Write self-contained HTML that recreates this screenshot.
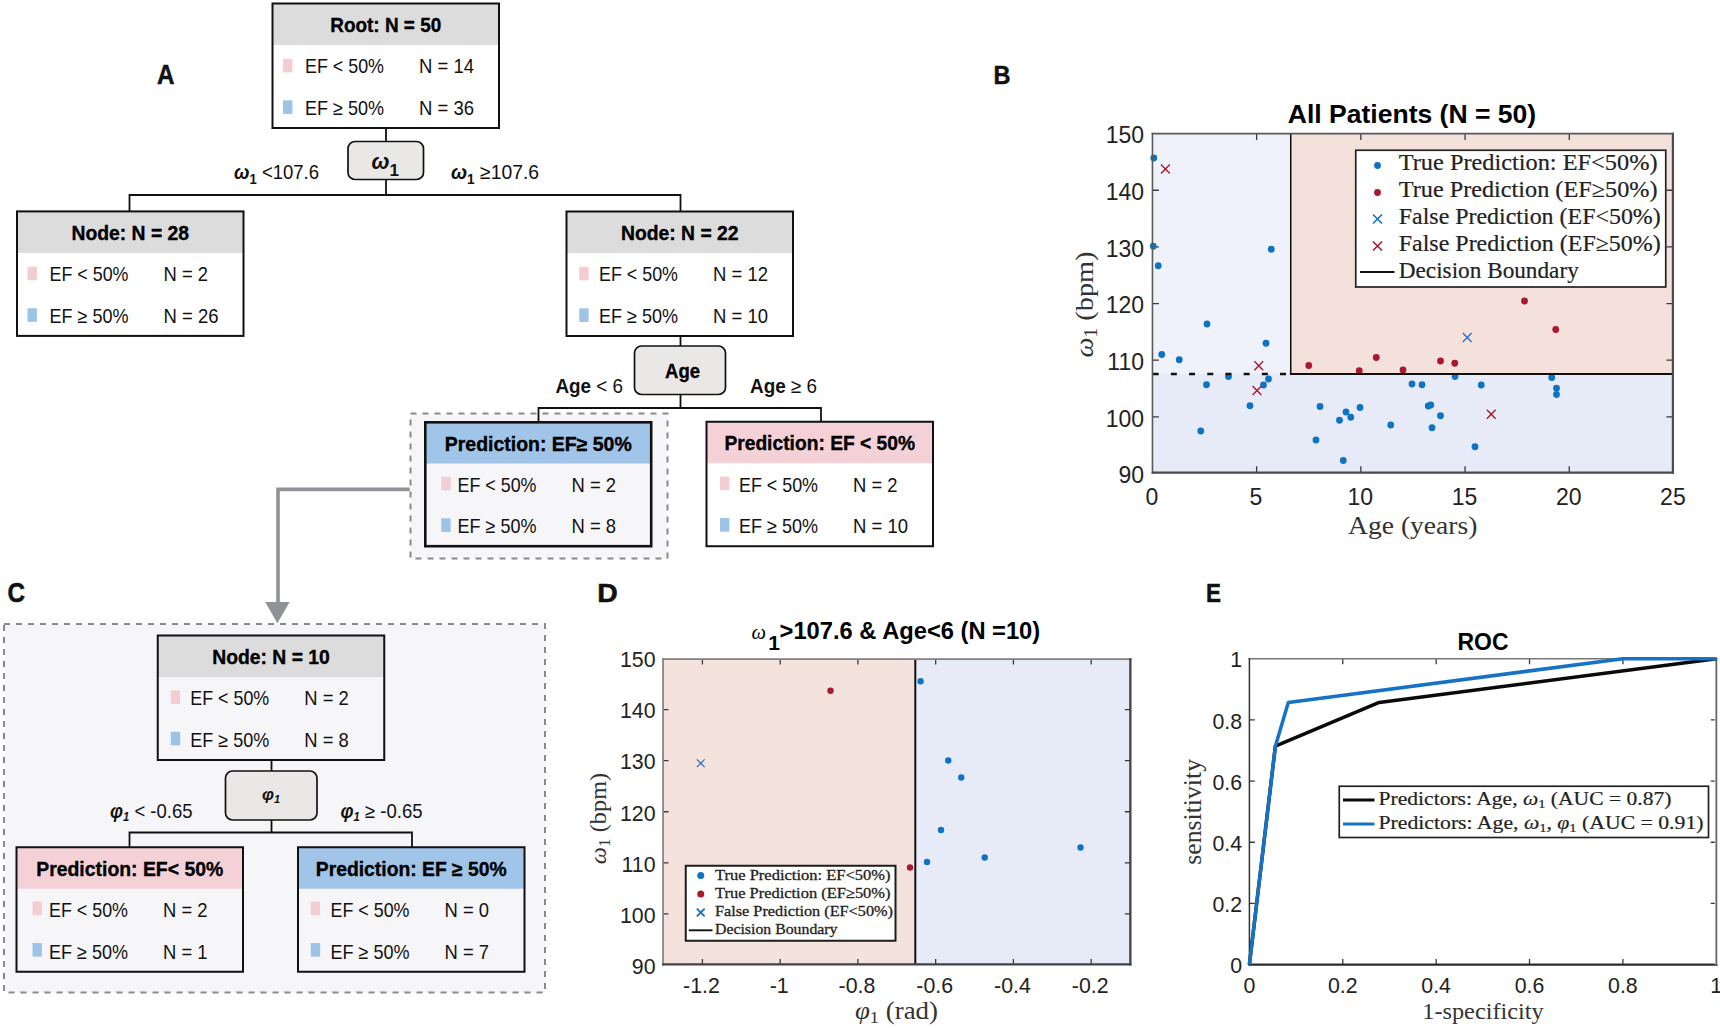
<!DOCTYPE html>
<html lang="en"><head><meta charset="utf-8"><title>Decision tree figure</title>
<style>html,body{margin:0;padding:0;background:#fff;overflow:hidden}svg{display:block}</style></head><body>
<svg width="1720" height="1028" viewBox="0 0 1720 1028">
<rect width="1720" height="1028" fill="#fff"/>
<text x="157" y="84" font-family='"Liberation Sans", sans-serif' font-size="27" font-weight="bold" font-style="normal" text-anchor="start" fill="#111" textLength="17.5" lengthAdjust="spacingAndGlyphs" stroke="#111" stroke-width="0.5">A</text>
<text x="993.5" y="83.75" font-family='"Liberation Sans", sans-serif' font-size="26.5" font-weight="bold" font-style="normal" text-anchor="start" fill="#111" textLength="17" lengthAdjust="spacingAndGlyphs" stroke="#111" stroke-width="0.5">B</text>
<text x="7.5" y="601.75" font-family='"Liberation Sans", sans-serif' font-size="27" font-weight="bold" font-style="normal" text-anchor="start" fill="#111" textLength="17.5" lengthAdjust="spacingAndGlyphs" stroke="#111" stroke-width="0.5">C</text>
<text x="597.3" y="601.75" font-family='"Liberation Sans", sans-serif' font-size="26.5" font-weight="bold" font-style="normal" text-anchor="start" fill="#111" textLength="20.5" lengthAdjust="spacingAndGlyphs" stroke="#111" stroke-width="0.5">D</text>
<text x="1206" y="601.75" font-family='"Liberation Sans", sans-serif' font-size="26.5" font-weight="bold" font-style="normal" text-anchor="start" fill="#111" textLength="15" lengthAdjust="spacingAndGlyphs" stroke="#111" stroke-width="0.5">E</text>
<rect x="410.5" y="413.5" width="257" height="145" fill="#f6f6f8" stroke="#8a8a8a" stroke-width="2" stroke-dasharray="6 6"/>
<path d="M386 128V142M386 179V195M129.5 212V195H680.5V212" stroke="#111" stroke-width="1.8" fill="none"/>
<path d="M680.5 336V346M680.5 394V408M538.5 422V408H821V422" stroke="#111" stroke-width="1.8" fill="none"/>
<rect x="272.5" y="3.5" width="226.5" height="124.5" fill="#fff"/>
<rect x="272.5" y="3.5" width="226.5" height="41.5" fill="#dddcdd"/>
<rect x="272.5" y="3.5" width="226.5" height="124.5" fill="none" stroke="#111" stroke-width="2.0"/>
<text x="385.75" y="32.0" font-family='"Liberation Sans", sans-serif' font-size="19.8" font-weight="bold" font-style="normal" text-anchor="middle" fill="#000" textLength="111" lengthAdjust="spacingAndGlyphs" stroke="#000" stroke-width="0.35">Root: N = 50</text>
<rect x="283.0" y="58.8" width="9.4" height="13.6" fill="#f4cdd2"/>
<text x="305.0" y="73.3" font-family='"Liberation Sans", sans-serif' font-size="19.8" font-weight="normal" font-style="normal" text-anchor="start" fill="#111" textLength="79" lengthAdjust="spacingAndGlyphs" >EF &lt; 50%</text>
<text x="419.0" y="73.3" font-family='"Liberation Sans", sans-serif' font-size="19.8" font-weight="normal" font-style="normal" text-anchor="start" fill="#111" textLength="55" lengthAdjust="spacingAndGlyphs" >N = 14</text>
<rect x="283.0" y="100.3" width="9.4" height="13.6" fill="#9dc3e7"/>
<text x="305.0" y="114.8" font-family='"Liberation Sans", sans-serif' font-size="19.8" font-weight="normal" font-style="normal" text-anchor="start" fill="#111" textLength="79" lengthAdjust="spacingAndGlyphs" >EF ≥ 50%</text>
<text x="419.0" y="114.8" font-family='"Liberation Sans", sans-serif' font-size="19.8" font-weight="normal" font-style="normal" text-anchor="start" fill="#111" textLength="55" lengthAdjust="spacingAndGlyphs" >N = 36</text>
<rect x="17.0" y="211.4" width="226.5" height="124.5" fill="#fff"/>
<rect x="17.0" y="211.4" width="226.5" height="41.5" fill="#dddcdd"/>
<rect x="17.0" y="211.4" width="226.5" height="124.5" fill="none" stroke="#111" stroke-width="2.0"/>
<text x="130.25" y="239.9" font-family='"Liberation Sans", sans-serif' font-size="19.8" font-weight="bold" font-style="normal" text-anchor="middle" fill="#000" textLength="117.5" lengthAdjust="spacingAndGlyphs" stroke="#000" stroke-width="0.35">Node: N = 28</text>
<rect x="27.5" y="266.7" width="9.4" height="13.6" fill="#f4cdd2"/>
<text x="49.5" y="281.2" font-family='"Liberation Sans", sans-serif' font-size="19.8" font-weight="normal" font-style="normal" text-anchor="start" fill="#111" textLength="79" lengthAdjust="spacingAndGlyphs" >EF &lt; 50%</text>
<text x="163.5" y="281.2" font-family='"Liberation Sans", sans-serif' font-size="19.8" font-weight="normal" font-style="normal" text-anchor="start" fill="#111" textLength="44.5" lengthAdjust="spacingAndGlyphs" >N = 2</text>
<rect x="27.5" y="308.2" width="9.4" height="13.6" fill="#9dc3e7"/>
<text x="49.5" y="322.7" font-family='"Liberation Sans", sans-serif' font-size="19.8" font-weight="normal" font-style="normal" text-anchor="start" fill="#111" textLength="79" lengthAdjust="spacingAndGlyphs" >EF ≥ 50%</text>
<text x="163.5" y="322.7" font-family='"Liberation Sans", sans-serif' font-size="19.8" font-weight="normal" font-style="normal" text-anchor="start" fill="#111" textLength="55" lengthAdjust="spacingAndGlyphs" >N = 26</text>
<rect x="566.5" y="211.5" width="226.5" height="124.5" fill="#fff"/>
<rect x="566.5" y="211.5" width="226.5" height="41.5" fill="#dddcdd"/>
<rect x="566.5" y="211.5" width="226.5" height="124.5" fill="none" stroke="#111" stroke-width="2.0"/>
<text x="679.75" y="240.0" font-family='"Liberation Sans", sans-serif' font-size="19.8" font-weight="bold" font-style="normal" text-anchor="middle" fill="#000" textLength="117.5" lengthAdjust="spacingAndGlyphs" stroke="#000" stroke-width="0.35">Node: N = 22</text>
<rect x="579.25" y="266.8" width="9.4" height="13.6" fill="#f4cdd2"/>
<text x="599.0" y="281.3" font-family='"Liberation Sans", sans-serif' font-size="19.8" font-weight="normal" font-style="normal" text-anchor="start" fill="#111" textLength="79" lengthAdjust="spacingAndGlyphs" >EF &lt; 50%</text>
<text x="713.0" y="281.3" font-family='"Liberation Sans", sans-serif' font-size="19.8" font-weight="normal" font-style="normal" text-anchor="start" fill="#111" textLength="55" lengthAdjust="spacingAndGlyphs" >N = 12</text>
<rect x="579.25" y="308.3" width="9.4" height="13.6" fill="#9dc3e7"/>
<text x="599.0" y="322.8" font-family='"Liberation Sans", sans-serif' font-size="19.8" font-weight="normal" font-style="normal" text-anchor="start" fill="#111" textLength="79" lengthAdjust="spacingAndGlyphs" >EF ≥ 50%</text>
<text x="713.0" y="322.8" font-family='"Liberation Sans", sans-serif' font-size="19.8" font-weight="normal" font-style="normal" text-anchor="start" fill="#111" textLength="55" lengthAdjust="spacingAndGlyphs" >N = 10</text>
<rect x="425.3" y="422.3" width="225.9" height="123.9" fill="#f6f6f8"/>
<rect x="425.3" y="422.3" width="225.9" height="41.2" fill="#a0c5e9"/>
<rect x="425.3" y="422.3" width="225.9" height="123.9" fill="none" stroke="#111" stroke-width="2.6"/>
<text x="538.25" y="450.5" font-family='"Liberation Sans", sans-serif' font-size="19.8" font-weight="bold" font-style="normal" text-anchor="middle" fill="#000" textLength="187" lengthAdjust="spacingAndGlyphs" stroke="#000" stroke-width="0.35">Prediction: EF≥ 50%</text>
<rect x="441.25" y="476.8" width="9.4" height="13.6" fill="#f4cdd2"/>
<text x="457.5" y="491.8" font-family='"Liberation Sans", sans-serif' font-size="19.8" font-weight="normal" font-style="normal" text-anchor="start" fill="#111" textLength="79" lengthAdjust="spacingAndGlyphs" >EF &lt; 50%</text>
<text x="571.5" y="491.8" font-family='"Liberation Sans", sans-serif' font-size="19.8" font-weight="normal" font-style="normal" text-anchor="start" fill="#111" textLength="44.5" lengthAdjust="spacingAndGlyphs" >N = 2</text>
<rect x="441.25" y="518.3" width="9.4" height="13.6" fill="#9dc3e7"/>
<text x="457.5" y="533.3" font-family='"Liberation Sans", sans-serif' font-size="19.8" font-weight="normal" font-style="normal" text-anchor="start" fill="#111" textLength="79" lengthAdjust="spacingAndGlyphs" >EF ≥ 50%</text>
<text x="571.5" y="533.3" font-family='"Liberation Sans", sans-serif' font-size="19.8" font-weight="normal" font-style="normal" text-anchor="start" fill="#111" textLength="44.5" lengthAdjust="spacingAndGlyphs" >N = 8</text>
<rect x="706.5" y="421.75" width="226.5" height="124.5" fill="#fff"/>
<rect x="706.5" y="421.75" width="226.5" height="41.5" fill="#f4d1d6"/>
<rect x="706.5" y="421.75" width="226.5" height="124.5" fill="none" stroke="#111" stroke-width="2.0"/>
<text x="819.75" y="450.25" font-family='"Liberation Sans", sans-serif' font-size="19.8" font-weight="bold" font-style="normal" text-anchor="middle" fill="#000" textLength="190.75" lengthAdjust="spacingAndGlyphs" stroke="#000" stroke-width="0.35">Prediction: EF &lt; 50%</text>
<rect x="720.0" y="476.55" width="9.4" height="13.6" fill="#f4cdd2"/>
<text x="739.0" y="491.55" font-family='"Liberation Sans", sans-serif' font-size="19.8" font-weight="normal" font-style="normal" text-anchor="start" fill="#111" textLength="79" lengthAdjust="spacingAndGlyphs" >EF &lt; 50%</text>
<text x="853.0" y="491.55" font-family='"Liberation Sans", sans-serif' font-size="19.8" font-weight="normal" font-style="normal" text-anchor="start" fill="#111" textLength="44.5" lengthAdjust="spacingAndGlyphs" >N = 2</text>
<rect x="720.0" y="518.05" width="9.4" height="13.6" fill="#9dc3e7"/>
<text x="739.0" y="533.05" font-family='"Liberation Sans", sans-serif' font-size="19.8" font-weight="normal" font-style="normal" text-anchor="start" fill="#111" textLength="79" lengthAdjust="spacingAndGlyphs" >EF ≥ 50%</text>
<text x="853.0" y="533.05" font-family='"Liberation Sans", sans-serif' font-size="19.8" font-weight="normal" font-style="normal" text-anchor="start" fill="#111" textLength="55" lengthAdjust="spacingAndGlyphs" >N = 10</text>
<rect x="348" y="141.5" width="75.5" height="38" rx="7" ry="7" fill="#e9e8e7" stroke="#111" stroke-width="1.7"/>
<text x="371.5" y="169" font-family='"Liberation Sans", sans-serif' font-size="21.5" font-weight="bold" font-style="italic" fill="#111">ω<tspan font-style="normal" font-size="17" dy="6.5">1</tspan></text>
<text x="234" y="179" font-family='"Liberation Sans", sans-serif' font-size="19.8" fill="#111" textLength="85" lengthAdjust="spacingAndGlyphs"><tspan font-weight="bold" font-style="italic">ω</tspan><tspan font-weight="bold" font-size="14" dy="4.5">1</tspan><tspan dy="-4.5"> &lt;107.6</tspan></text>
<text x="451" y="179" font-family='"Liberation Sans", sans-serif' font-size="19.8" fill="#111" textLength="88" lengthAdjust="spacingAndGlyphs"><tspan font-weight="bold" font-style="italic">ω</tspan><tspan font-weight="bold" font-size="14" dy="4.5">1</tspan><tspan dy="-4.5"> ≥107.6</tspan></text>
<rect x="634.5" y="346" width="91" height="48.5" rx="7" ry="7" fill="#e9e8e7" stroke="#111" stroke-width="1.7"/>
<text x="682.5" y="377.5" font-family='"Liberation Sans", sans-serif' font-size="19.8" font-weight="bold" font-style="normal" text-anchor="middle" fill="#000" textLength="35" lengthAdjust="spacingAndGlyphs" stroke="#000" stroke-width="0.3">Age</text>
<text x="555.5" y="392.5" font-family='"Liberation Sans", sans-serif' font-size="19.8" fill="#111" textLength="67.5" lengthAdjust="spacingAndGlyphs"><tspan font-weight="bold">Age</tspan> &lt; 6</text>
<text x="750" y="392.5" font-family='"Liberation Sans", sans-serif' font-size="19.8" fill="#111" textLength="67" lengthAdjust="spacingAndGlyphs"><tspan font-weight="bold">Age</tspan> ≥ 6</text>
<path d="M409.7 489.4H278V604" fill="none" stroke="#909297" stroke-width="3.6"/>
<path d="M265.2 602H289.6L277.4 623.2Z" fill="#909297"/>
<rect x="4" y="624" width="541" height="368.5" fill="#f6f6f8" stroke="#8a8a8a" stroke-width="2" stroke-dasharray="6 6"/>
<path d="M271.5 760V771M271.5 820V832.5M129.5 847V832.5H412V847" stroke="#111" stroke-width="1.8" fill="none"/>
<rect x="157.75" y="635.5" width="226.5" height="124.5" fill="#f6f6f8"/>
<rect x="157.75" y="635.5" width="226.5" height="41.5" fill="#dddcdd"/>
<rect x="157.75" y="635.5" width="226.5" height="124.5" fill="none" stroke="#111" stroke-width="2.0"/>
<text x="271.0" y="664.0" font-family='"Liberation Sans", sans-serif' font-size="19.8" font-weight="bold" font-style="normal" text-anchor="middle" fill="#000" textLength="117.5" lengthAdjust="spacingAndGlyphs" stroke="#000" stroke-width="0.35">Node: N = 10</text>
<rect x="170.75" y="690.3" width="9.4" height="13.6" fill="#f4cdd2"/>
<text x="190.25" y="705.3" font-family='"Liberation Sans", sans-serif' font-size="19.8" font-weight="normal" font-style="normal" text-anchor="start" fill="#111" textLength="79" lengthAdjust="spacingAndGlyphs" >EF &lt; 50%</text>
<text x="304.25" y="705.3" font-family='"Liberation Sans", sans-serif' font-size="19.8" font-weight="normal" font-style="normal" text-anchor="start" fill="#111" textLength="44.5" lengthAdjust="spacingAndGlyphs" >N = 2</text>
<rect x="170.75" y="731.8" width="9.4" height="13.6" fill="#9dc3e7"/>
<text x="190.25" y="746.8" font-family='"Liberation Sans", sans-serif' font-size="19.8" font-weight="normal" font-style="normal" text-anchor="start" fill="#111" textLength="79" lengthAdjust="spacingAndGlyphs" >EF ≥ 50%</text>
<text x="304.25" y="746.8" font-family='"Liberation Sans", sans-serif' font-size="19.8" font-weight="normal" font-style="normal" text-anchor="start" fill="#111" textLength="44.5" lengthAdjust="spacingAndGlyphs" >N = 8</text>
<rect x="16.5" y="847.25" width="226.5" height="124.5" fill="#f6f6f8"/>
<rect x="16.5" y="847.25" width="226.5" height="41.5" fill="#f4d1d6"/>
<rect x="16.5" y="847.25" width="226.5" height="124.5" fill="none" stroke="#111" stroke-width="2.0"/>
<text x="129.75" y="875.75" font-family='"Liberation Sans", sans-serif' font-size="19.8" font-weight="bold" font-style="normal" text-anchor="middle" fill="#000" textLength="187" lengthAdjust="spacingAndGlyphs" stroke="#000" stroke-width="0.35">Prediction: EF&lt; 50%</text>
<rect x="32.5" y="901.55" width="9.4" height="13.6" fill="#f4cdd2"/>
<text x="49.0" y="917.05" font-family='"Liberation Sans", sans-serif' font-size="19.8" font-weight="normal" font-style="normal" text-anchor="start" fill="#111" textLength="79" lengthAdjust="spacingAndGlyphs" >EF &lt; 50%</text>
<text x="163.0" y="917.05" font-family='"Liberation Sans", sans-serif' font-size="19.8" font-weight="normal" font-style="normal" text-anchor="start" fill="#111" textLength="44.5" lengthAdjust="spacingAndGlyphs" >N = 2</text>
<rect x="32.5" y="943.05" width="9.4" height="13.6" fill="#9dc3e7"/>
<text x="49.0" y="958.55" font-family='"Liberation Sans", sans-serif' font-size="19.8" font-weight="normal" font-style="normal" text-anchor="start" fill="#111" textLength="79" lengthAdjust="spacingAndGlyphs" >EF ≥ 50%</text>
<text x="163.0" y="958.55" font-family='"Liberation Sans", sans-serif' font-size="19.8" font-weight="normal" font-style="normal" text-anchor="start" fill="#111" textLength="44.5" lengthAdjust="spacingAndGlyphs" >N = 1</text>
<rect x="298.0" y="847.25" width="226.5" height="124.5" fill="#f6f6f8"/>
<rect x="298.0" y="847.25" width="226.5" height="41.5" fill="#a0c5e9"/>
<rect x="298.0" y="847.25" width="226.5" height="124.5" fill="none" stroke="#111" stroke-width="2.0"/>
<text x="411.25" y="875.75" font-family='"Liberation Sans", sans-serif' font-size="19.8" font-weight="bold" font-style="normal" text-anchor="middle" fill="#000" textLength="191" lengthAdjust="spacingAndGlyphs" stroke="#000" stroke-width="0.35">Prediction: EF ≥ 50%</text>
<rect x="310.75" y="901.55" width="9.4" height="13.6" fill="#f4cdd2"/>
<text x="330.5" y="917.05" font-family='"Liberation Sans", sans-serif' font-size="19.8" font-weight="normal" font-style="normal" text-anchor="start" fill="#111" textLength="79" lengthAdjust="spacingAndGlyphs" >EF &lt; 50%</text>
<text x="444.5" y="917.05" font-family='"Liberation Sans", sans-serif' font-size="19.8" font-weight="normal" font-style="normal" text-anchor="start" fill="#111" textLength="44.5" lengthAdjust="spacingAndGlyphs" >N = 0</text>
<rect x="310.75" y="943.05" width="9.4" height="13.6" fill="#9dc3e7"/>
<text x="330.5" y="958.55" font-family='"Liberation Sans", sans-serif' font-size="19.8" font-weight="normal" font-style="normal" text-anchor="start" fill="#111" textLength="79" lengthAdjust="spacingAndGlyphs" >EF ≥ 50%</text>
<text x="444.5" y="958.55" font-family='"Liberation Sans", sans-serif' font-size="19.8" font-weight="normal" font-style="normal" text-anchor="start" fill="#111" textLength="44.5" lengthAdjust="spacingAndGlyphs" >N = 7</text>
<rect x="225.5" y="771" width="91.5" height="49" rx="7" ry="7" fill="#e9e8e7" stroke="#111" stroke-width="1.7"/>
<text x="262" y="800" font-family='"Liberation Sans", sans-serif' font-size="17" font-weight="bold" font-style="italic" fill="#111">φ<tspan font-size="11" dy="3">1</tspan></text>
<text x="110" y="818" font-family='"Liberation Sans", sans-serif' font-size="19.8" fill="#111" textLength="82.5" lengthAdjust="spacingAndGlyphs"><tspan font-weight="bold" font-style="italic">φ</tspan><tspan font-weight="bold" font-style="italic" font-size="12" dy="3">1</tspan><tspan dy="-3"> &lt; -0.65</tspan></text>
<text x="340.5" y="818" font-family='"Liberation Sans", sans-serif' font-size="19.8" fill="#111" textLength="82" lengthAdjust="spacingAndGlyphs"><tspan font-weight="bold" font-style="italic">φ</tspan><tspan font-weight="bold" font-style="italic" font-size="12" dy="3">1</tspan><tspan dy="-3"> ≥ -0.65</tspan></text>
<rect x="1152.45" y="133.6" width="136.3499999999999" height="240.4" fill="#eff2fb"/>
<rect x="1290.7" y="133.6" width="382.20000000000005" height="240.4" fill="#f4e1dc"/>
<rect x="1152.45" y="374.0" width="520.45" height="98.69999999999999" fill="#e7ebf7"/>
<path d="M1256.62 472.7v-6.5M1256.62 133.6v6.5M1360.84 472.7v-6.5M1360.84 133.6v6.5M1465.06 472.7v-6.5M1465.06 133.6v6.5M1569.28 472.7v-6.5M1569.28 133.6v6.5M1152.45 416.85h6.5M1672.9 416.85h-6.5M1152.45 360.20h6.5M1672.9 360.20h-6.5M1152.45 303.55h6.5M1672.9 303.55h-6.5M1152.45 246.90h6.5M1672.9 246.90h-6.5M1152.45 190.25h6.5M1672.9 190.25h-6.5" stroke="#3a3a3e" stroke-width="1.3" fill="none"/>
<circle cx="1161.75" cy="354.5" r="3.4" fill="#0f73c4"/>
<circle cx="1179.25" cy="359.75" r="3.4" fill="#0f73c4"/>
<circle cx="1207" cy="324" r="3.4" fill="#0f73c4"/>
<circle cx="1206.5" cy="384.75" r="3.4" fill="#0f73c4"/>
<circle cx="1200.75" cy="431" r="3.4" fill="#0f73c4"/>
<circle cx="1228.5" cy="376.5" r="3.4" fill="#0f73c4"/>
<circle cx="1266" cy="343.25" r="3.4" fill="#0f73c4"/>
<circle cx="1268.5" cy="379" r="3.4" fill="#0f73c4"/>
<circle cx="1263.5" cy="385" r="3.4" fill="#0f73c4"/>
<circle cx="1250" cy="405.75" r="3.4" fill="#0f73c4"/>
<circle cx="1320" cy="406.5" r="3.4" fill="#0f73c4"/>
<circle cx="1316" cy="440" r="3.4" fill="#0f73c4"/>
<circle cx="1339.5" cy="420.25" r="3.4" fill="#0f73c4"/>
<circle cx="1346" cy="412" r="3.4" fill="#0f73c4"/>
<circle cx="1350.75" cy="417.25" r="3.4" fill="#0f73c4"/>
<circle cx="1360" cy="407.5" r="3.4" fill="#0f73c4"/>
<circle cx="1343.25" cy="460.5" r="3.4" fill="#0f73c4"/>
<circle cx="1390.75" cy="425" r="3.4" fill="#0f73c4"/>
<circle cx="1412" cy="384" r="3.4" fill="#0f73c4"/>
<circle cx="1422" cy="384.75" r="3.4" fill="#0f73c4"/>
<circle cx="1428.25" cy="406" r="3.4" fill="#0f73c4"/>
<circle cx="1430.75" cy="405" r="3.4" fill="#0f73c4"/>
<circle cx="1432" cy="427.75" r="3.4" fill="#0f73c4"/>
<circle cx="1440.5" cy="415.75" r="3.4" fill="#0f73c4"/>
<circle cx="1455" cy="376.5" r="3.4" fill="#0f73c4"/>
<circle cx="1153.8" cy="158" r="3.4" fill="#0f73c4"/>
<circle cx="1153.25" cy="246.25" r="3.4" fill="#0f73c4"/>
<circle cx="1158.25" cy="265.75" r="3.4" fill="#0f73c4"/>
<circle cx="1271.25" cy="249.25" r="3.4" fill="#0f73c4"/>
<circle cx="1481.25" cy="385" r="3.4" fill="#0f73c4"/>
<circle cx="1475" cy="446.75" r="3.4" fill="#0f73c4"/>
<circle cx="1551.75" cy="377.5" r="3.4" fill="#0f73c4"/>
<circle cx="1556.5" cy="388.25" r="3.4" fill="#0f73c4"/>
<circle cx="1556.5" cy="394.5" r="3.4" fill="#0f73c4"/>
<circle cx="1308.75" cy="365.5" r="3.4" fill="#a9182f"/>
<circle cx="1376.25" cy="357.5" r="3.4" fill="#a9182f"/>
<circle cx="1359.25" cy="370.75" r="3.4" fill="#a9182f"/>
<circle cx="1403" cy="370" r="3.4" fill="#a9182f"/>
<circle cx="1440.5" cy="361" r="3.4" fill="#a9182f"/>
<circle cx="1454.75" cy="363.25" r="3.4" fill="#a9182f"/>
<circle cx="1524.5" cy="301" r="3.4" fill="#a9182f"/>
<circle cx="1555.75" cy="329.5" r="3.4" fill="#a9182f"/>
<path d="M1254.35 361.35L1263.15 370.15M1254.35 370.15L1263.15 361.35" stroke="#a9182f" stroke-width="1.4" fill="none"/>
<path d="M1252.6 386.1L1261.4 394.9M1252.6 394.9L1261.4 386.1" stroke="#a9182f" stroke-width="1.4" fill="none"/>
<path d="M1161.0 164.6L1169.8000000000002 173.4M1161.0 173.4L1169.8000000000002 164.6" stroke="#a9182f" stroke-width="1.4" fill="none"/>
<path d="M1486.85 409.85L1495.65 418.65M1486.85 418.65L1495.65 409.85" stroke="#a9182f" stroke-width="1.4" fill="none"/>
<path d="M1462.85 333.1L1471.65 341.9M1462.85 341.9L1471.65 333.1" stroke="#2f6fc0" stroke-width="1.4" fill="none"/>
<path d="M1152.65 374.0H1287" stroke="#111" stroke-width="2.3" stroke-dasharray="6 12.2" fill="none"/>
<path d="M1290.7 133.6V374.0" stroke="#111" stroke-width="1.6" fill="none"/>
<path d="M1289.9 374.0H1672.9" stroke="#111" stroke-width="2" fill="none"/>
<path d="M1151.65 133.6H1674.0" stroke="#58595d" stroke-width="1.6" fill="none"/>
<path d="M1152.45 132.79999999999998V473.8" stroke="#58595d" stroke-width="1.6" fill="none"/>
<path d="M1672.9 132.79999999999998V473.8" stroke="#4a4b50" stroke-width="2.2" fill="none"/>
<path d="M1151.65 472.7H1674.0" stroke="#4a4b50" stroke-width="2.2" fill="none"/>
<text x="1151.8000000000002" y="505.4" font-family='"Liberation Sans", sans-serif' font-size="23" font-weight="normal" font-style="normal" text-anchor="middle" fill="#222" >0</text>
<text x="1256.0200000000002" y="505.4" font-family='"Liberation Sans", sans-serif' font-size="23" font-weight="normal" font-style="normal" text-anchor="middle" fill="#222" >5</text>
<text x="1360.2400000000002" y="505.4" font-family='"Liberation Sans", sans-serif' font-size="23" font-weight="normal" font-style="normal" text-anchor="middle" fill="#222" >10</text>
<text x="1464.46" y="505.4" font-family='"Liberation Sans", sans-serif' font-size="23" font-weight="normal" font-style="normal" text-anchor="middle" fill="#222" >15</text>
<text x="1568.68" y="505.4" font-family='"Liberation Sans", sans-serif' font-size="23" font-weight="normal" font-style="normal" text-anchor="middle" fill="#222" >20</text>
<text x="1672.9" y="505.4" font-family='"Liberation Sans", sans-serif' font-size="23" font-weight="normal" font-style="normal" text-anchor="middle" fill="#222" >25</text>
<text x="1144" y="483.3" font-family='"Liberation Sans", sans-serif' font-size="23" font-weight="normal" font-style="normal" text-anchor="end" fill="#222" >90</text>
<text x="1144" y="426.65000000000003" font-family='"Liberation Sans", sans-serif' font-size="23" font-weight="normal" font-style="normal" text-anchor="end" fill="#222" >100</text>
<text x="1144" y="370.0" font-family='"Liberation Sans", sans-serif' font-size="23" font-weight="normal" font-style="normal" text-anchor="end" fill="#222" >110</text>
<text x="1144" y="313.35" font-family='"Liberation Sans", sans-serif' font-size="23" font-weight="normal" font-style="normal" text-anchor="end" fill="#222" >120</text>
<text x="1144" y="256.7" font-family='"Liberation Sans", sans-serif' font-size="23" font-weight="normal" font-style="normal" text-anchor="end" fill="#222" >130</text>
<text x="1144" y="200.05" font-family='"Liberation Sans", sans-serif' font-size="23" font-weight="normal" font-style="normal" text-anchor="end" fill="#222" >140</text>
<text x="1144" y="143.40000000000003" font-family='"Liberation Sans", sans-serif' font-size="23" font-weight="normal" font-style="normal" text-anchor="end" fill="#222" >150</text>
<text x="1412" y="122.6" font-family='"Liberation Sans", sans-serif' font-size="26.4" font-weight="bold" font-style="normal" text-anchor="middle" fill="#000" textLength="248.3" lengthAdjust="spacingAndGlyphs" >All Patients (N = 50)</text>
<text x="1412.75" y="533.75" font-family='"Liberation Serif", serif' font-size="26" font-weight="normal" font-style="normal" text-anchor="middle" fill="#333" textLength="129.5" lengthAdjust="spacingAndGlyphs" >Age (years)</text>
<text transform="translate(1092.5 304.5) rotate(-90)" font-family='"Liberation Serif", serif' font-size="26" text-anchor="middle" fill="#333" textLength="106" lengthAdjust="spacingAndGlyphs"><tspan font-style="italic">ω</tspan><tspan font-size="18" dy="4">1</tspan><tspan dy="-4"> (bpm)</tspan></text>
<rect x="1355.75" y="150.25" width="310" height="136.75" fill="#fff" stroke="#222" stroke-width="1.7"/>
<text x="1398.75" y="170" font-family='"Liberation Serif", serif' font-size="22.5" font-weight="normal" font-style="normal" text-anchor="start" fill="#222" textLength="258.75" lengthAdjust="spacingAndGlyphs" stroke="#222" stroke-width="0.2">True Prediction: EF&lt;50%)</text>
<text x="1398.75" y="197" font-family='"Liberation Serif", serif' font-size="22.5" font-weight="normal" font-style="normal" text-anchor="start" fill="#222" textLength="258.75" lengthAdjust="spacingAndGlyphs" stroke="#222" stroke-width="0.2">True Prediction (EF≥50%)</text>
<text x="1398.75" y="223.75" font-family='"Liberation Serif", serif' font-size="22.5" font-weight="normal" font-style="normal" text-anchor="start" fill="#222" textLength="262" lengthAdjust="spacingAndGlyphs" stroke="#222" stroke-width="0.2">False Prediction (EF&lt;50%)</text>
<text x="1398.75" y="250.75" font-family='"Liberation Serif", serif' font-size="22.5" font-weight="normal" font-style="normal" text-anchor="start" fill="#222" textLength="262" lengthAdjust="spacingAndGlyphs" stroke="#222" stroke-width="0.2">False Prediction (EF≥50%)</text>
<text x="1398.75" y="277.5" font-family='"Liberation Serif", serif' font-size="22.5" font-weight="normal" font-style="normal" text-anchor="start" fill="#222" textLength="180" lengthAdjust="spacingAndGlyphs" stroke="#222" stroke-width="0.2">Decision Boundary</text>
<circle cx="1377.5" cy="165.5" r="3.4" fill="#0f73c4"/>
<circle cx="1377.5" cy="192.5" r="3.4" fill="#a9182f"/>
<path d="M1373.0 214.5L1382.0 223.5M1373.0 223.5L1382.0 214.5" stroke="#0f73c4" stroke-width="1.6" fill="none"/>
<path d="M1373.0 241.5L1382.0 250.5M1373.0 250.5L1382.0 241.5" stroke="#a9182f" stroke-width="1.6" fill="none"/>
<path d="M1360 272H1394.5" stroke="#111" stroke-width="1.8"/>
<rect x="663.05" y="659.1" width="252.25" height="305.35" fill="#f4e2dd"/>
<rect x="915.3" y="659.1" width="215.04999999999995" height="305.35" fill="#e6ebf7"/>
<path d="M702.42 964.45v-5.5M702.42 659.1v5.5M780.17 964.45v-5.5M780.17 659.1v5.5M857.92 964.45v-5.5M857.92 659.1v5.5M935.67 964.45v-5.5M935.67 659.1v5.5M1013.42 964.45v-5.5M1013.42 659.1v5.5M1091.17 964.45v-5.5M1091.17 659.1v5.5M663.05 913.85h5.5M1130.35 913.85h-5.5M663.05 862.80h5.5M1130.35 862.80h-5.5M663.05 811.75h5.5M1130.35 811.75h-5.5M663.05 760.70h5.5M1130.35 760.70h-5.5M663.05 709.65h5.5M1130.35 709.65h-5.5" stroke="#3a3a3e" stroke-width="1.3" fill="none"/>
<circle cx="920.6" cy="681.2" r="3.2" fill="#0f73c4"/>
<circle cx="948.25" cy="760.5" r="3.2" fill="#0f73c4"/>
<circle cx="961.25" cy="777.5" r="3.2" fill="#0f73c4"/>
<circle cx="941" cy="830" r="3.2" fill="#0f73c4"/>
<circle cx="927" cy="862" r="3.2" fill="#0f73c4"/>
<circle cx="984.75" cy="857.5" r="3.2" fill="#0f73c4"/>
<circle cx="1080.5" cy="847.5" r="3.2" fill="#0f73c4"/>
<circle cx="830.5" cy="690.75" r="3.2" fill="#a9182f"/>
<circle cx="910" cy="867.5" r="3.2" fill="#a9182f"/>
<path d="M696.85 759.35L704.65 767.15M696.85 767.15L704.65 759.35" stroke="#2f6fc0" stroke-width="1.3" fill="none"/>
<path d="M915.3 659.1V964.45" stroke="#111" stroke-width="2"/>
<path d="M662.1999999999999 659.1H1131.5" stroke="#867e7e" stroke-width="1.7" fill="none"/>
<path d="M663.05 658.25V965.6" stroke="#867e7e" stroke-width="1.7" fill="none"/>
<path d="M1130.35 658.25V965.6" stroke="#424348" stroke-width="2.3" fill="none"/>
<path d="M662.1999999999999 964.45H1131.5" stroke="#424348" stroke-width="2.3" fill="none"/>
<text x="701.42" y="993.2" font-family='"Liberation Sans", sans-serif' font-size="21.3" font-weight="normal" font-style="normal" text-anchor="middle" fill="#222" >-1.2</text>
<text x="779.17" y="993.2" font-family='"Liberation Sans", sans-serif' font-size="21.3" font-weight="normal" font-style="normal" text-anchor="middle" fill="#222" >-1</text>
<text x="856.92" y="993.2" font-family='"Liberation Sans", sans-serif' font-size="21.3" font-weight="normal" font-style="normal" text-anchor="middle" fill="#222" >-0.8</text>
<text x="934.67" y="993.2" font-family='"Liberation Sans", sans-serif' font-size="21.3" font-weight="normal" font-style="normal" text-anchor="middle" fill="#222" >-0.6</text>
<text x="1012.42" y="993.2" font-family='"Liberation Sans", sans-serif' font-size="21.3" font-weight="normal" font-style="normal" text-anchor="middle" fill="#222" >-0.4</text>
<text x="1090.17" y="993.2" font-family='"Liberation Sans", sans-serif' font-size="21.3" font-weight="normal" font-style="normal" text-anchor="middle" fill="#222" >-0.2</text>
<text x="655.5" y="973.65" font-family='"Liberation Sans", sans-serif' font-size="21.3" font-weight="normal" font-style="normal" text-anchor="end" fill="#222" >90</text>
<text x="655.5" y="922.6" font-family='"Liberation Sans", sans-serif' font-size="21.3" font-weight="normal" font-style="normal" text-anchor="end" fill="#222" >100</text>
<text x="655.5" y="871.55" font-family='"Liberation Sans", sans-serif' font-size="21.3" font-weight="normal" font-style="normal" text-anchor="end" fill="#222" >110</text>
<text x="655.5" y="820.5" font-family='"Liberation Sans", sans-serif' font-size="21.3" font-weight="normal" font-style="normal" text-anchor="end" fill="#222" >120</text>
<text x="655.5" y="769.45" font-family='"Liberation Sans", sans-serif' font-size="21.3" font-weight="normal" font-style="normal" text-anchor="end" fill="#222" >130</text>
<text x="655.5" y="718.4" font-family='"Liberation Sans", sans-serif' font-size="21.3" font-weight="normal" font-style="normal" text-anchor="end" fill="#222" >140</text>
<text x="655.5" y="667.35" font-family='"Liberation Sans", sans-serif' font-size="21.3" font-weight="normal" font-style="normal" text-anchor="end" fill="#222" >150</text>
<text x="751.5" y="638.9" font-family='"Liberation Serif", serif' font-style="italic" font-size="20.5" fill="#000">ω</text>
<text x="768.2" y="649.6" font-family='"Liberation Sans", sans-serif' font-weight="bold" font-size="21" fill="#000">1</text>
<text x="779.6" y="638.9" font-family='"Liberation Sans", sans-serif' font-size="23" font-weight="bold" font-style="normal" text-anchor="start" fill="#000" textLength="260.6" lengthAdjust="spacingAndGlyphs" >&gt;107.6 &amp; Age&lt;6 (N =10)</text>
<text x="855" y="1018.75" font-family='"Liberation Serif", serif' font-size="25" fill="#333" textLength="83" lengthAdjust="spacingAndGlyphs"><tspan font-style="italic">φ</tspan><tspan font-size="17" dy="4">1</tspan><tspan dy="-4"> (rad)</tspan></text>
<text transform="translate(605.8 818.5) rotate(-90)" font-family='"Liberation Serif", serif' font-size="22.5" text-anchor="middle" fill="#333" textLength="91.3" lengthAdjust="spacingAndGlyphs"><tspan font-style="italic">ω</tspan><tspan font-size="16" dy="4">1</tspan><tspan dy="-4"> (bpm)</tspan></text>
<rect x="685.75" y="865.75" width="209.75" height="75" fill="#fff" stroke="#1c1c1c" stroke-width="2"/>
<text x="715" y="879.5" font-family='"Liberation Serif", serif' font-size="15" font-weight="normal" font-style="normal" text-anchor="start" fill="#222" textLength="175.5" lengthAdjust="spacingAndGlyphs" stroke="#222" stroke-width="0.3">True Prediction: EF&lt;50%)</text>
<text x="715" y="897.5" font-family='"Liberation Serif", serif' font-size="15" font-weight="normal" font-style="normal" text-anchor="start" fill="#222" textLength="175.5" lengthAdjust="spacingAndGlyphs" stroke="#222" stroke-width="0.3">True Prediction (EF≥50%)</text>
<text x="715" y="916.25" font-family='"Liberation Serif", serif' font-size="15" font-weight="normal" font-style="normal" text-anchor="start" fill="#222" textLength="178" lengthAdjust="spacingAndGlyphs" stroke="#222" stroke-width="0.3">False Prediction (EF&lt;50%)</text>
<text x="715" y="934.25" font-family='"Liberation Serif", serif' font-size="15" font-weight="normal" font-style="normal" text-anchor="start" fill="#222" textLength="122.5" lengthAdjust="spacingAndGlyphs" stroke="#222" stroke-width="0.3">Decision Boundary</text>
<circle cx="700.75" cy="875.5" r="3.5" fill="#0f73c4"/>
<circle cx="700.75" cy="894" r="3.5" fill="#a9182f"/>
<path d="M696.85 908.6L704.65 916.4M696.85 916.4L704.65 908.6" stroke="#0f73c4" stroke-width="1.8" fill="none"/>
<path d="M688.75 930.3H712.5" stroke="#111" stroke-width="1.9"/>
<path d="M1342.78 964.6v-5.5M1342.78 658.7v5.5M1249.4 903.42h5.5M1716.3 903.42h-5.5M1436.16 964.6v-5.5M1436.16 658.7v5.5M1249.4 842.24h5.5M1716.3 842.24h-5.5M1529.54 964.6v-5.5M1529.54 658.7v5.5M1249.4 781.06h5.5M1716.3 781.06h-5.5M1622.92 964.6v-5.5M1622.92 658.7v5.5M1249.4 719.88h5.5M1716.3 719.88h-5.5" stroke="#3a3a3e" stroke-width="1.3" fill="none"/>
<path d="M1248.65 658.7H1717.45" stroke="#777" stroke-width="1.4" fill="none"/>
<path d="M1249.4 658.0V965.75" stroke="#333" stroke-width="1.5" fill="none"/>
<path d="M1716.3 658.0V965.75" stroke="#2a2a2a" stroke-width="2.3" fill="none"/>
<path d="M1248.65 964.6H1717.45" stroke="#2a2a2a" stroke-width="2.3" fill="none"/>
<path d="M1716.3 658.7V964.6" stroke="#fff" stroke-width="3" fill="none"/>
<path d="M1716.3 658.7V965.7" stroke="#666" stroke-width="1.7" fill="none"/>
<path d="M1249.40 964.60L1275.36 746.19L1379.20 702.44L1716.30 658.70" stroke="#0a0a0a" stroke-width="3.5" fill="none" stroke-linejoin="round"/>
<path d="M1249.40 964.60L1275.36 746.19L1288.29 702.44L1622.92 658.70L1716.30 658.70" stroke="#1672c4" stroke-width="3.5" fill="none" stroke-linejoin="round"/>
<text x="1249.4" y="993" font-family='"Liberation Sans", sans-serif' font-size="21.3" font-weight="normal" font-style="normal" text-anchor="middle" fill="#222" >0</text>
<text x="1242" y="973.35" font-family='"Liberation Sans", sans-serif' font-size="21.3" font-weight="normal" font-style="normal" text-anchor="end" fill="#222" >0</text>
<text x="1342.78" y="993" font-family='"Liberation Sans", sans-serif' font-size="21.3" font-weight="normal" font-style="normal" text-anchor="middle" fill="#222" >0.2</text>
<text x="1242" y="912.1700000000001" font-family='"Liberation Sans", sans-serif' font-size="21.3" font-weight="normal" font-style="normal" text-anchor="end" fill="#222" >0.2</text>
<text x="1436.16" y="993" font-family='"Liberation Sans", sans-serif' font-size="21.3" font-weight="normal" font-style="normal" text-anchor="middle" fill="#222" >0.4</text>
<text x="1242" y="850.99" font-family='"Liberation Sans", sans-serif' font-size="21.3" font-weight="normal" font-style="normal" text-anchor="end" fill="#222" >0.4</text>
<text x="1529.54" y="993" font-family='"Liberation Sans", sans-serif' font-size="21.3" font-weight="normal" font-style="normal" text-anchor="middle" fill="#222" >0.6</text>
<text x="1242" y="789.8100000000001" font-family='"Liberation Sans", sans-serif' font-size="21.3" font-weight="normal" font-style="normal" text-anchor="end" fill="#222" >0.6</text>
<text x="1622.92" y="993" font-family='"Liberation Sans", sans-serif' font-size="21.3" font-weight="normal" font-style="normal" text-anchor="middle" fill="#222" >0.8</text>
<text x="1242" y="728.63" font-family='"Liberation Sans", sans-serif' font-size="21.3" font-weight="normal" font-style="normal" text-anchor="end" fill="#222" >0.8</text>
<text x="1716.3" y="993" font-family='"Liberation Sans", sans-serif' font-size="21.3" font-weight="normal" font-style="normal" text-anchor="middle" fill="#222" >1</text>
<text x="1242" y="667.45" font-family='"Liberation Sans", sans-serif' font-size="21.3" font-weight="normal" font-style="normal" text-anchor="end" fill="#222" >1</text>
<text x="1483" y="649.5" font-family='"Liberation Sans", sans-serif' font-size="23" font-weight="bold" font-style="normal" text-anchor="middle" fill="#000" textLength="51" lengthAdjust="spacingAndGlyphs" >ROC</text>
<text x="1483" y="1019.25" font-family='"Liberation Serif", serif' font-size="24" font-weight="normal" font-style="normal" text-anchor="middle" fill="#333" textLength="121.5" lengthAdjust="spacingAndGlyphs" >1-specificity</text>
<text transform="translate(1200.6 811.85) rotate(-90)" font-family='"Liberation Serif", serif' font-size="24.5" text-anchor="middle" fill="#333" textLength="105.7" lengthAdjust="spacingAndGlyphs">sensitivity</text>
<rect x="1339.25" y="786.25" width="369.25" height="51.25" fill="#fff" stroke="#222" stroke-width="1.7"/>
<path d="M1343 800H1374.5" stroke="#0a0a0a" stroke-width="3"/><path d="M1343 824H1374.5" stroke="#1672c4" stroke-width="3"/>
<text x="1378.5" y="804.5" font-family='"Liberation Serif", serif' font-size="19.5" fill="#222" stroke="#222" stroke-width="0.2" textLength="293" lengthAdjust="spacingAndGlyphs">Predictors: Age, <tspan font-style="italic">ω</tspan><tspan font-size="13" dy="3">1</tspan><tspan dy="-3"> (AUC = 0.87)</tspan></text>
<text x="1378.5" y="829" font-family='"Liberation Serif", serif' font-size="19.5" fill="#222" stroke="#222" stroke-width="0.2" textLength="325" lengthAdjust="spacingAndGlyphs">Predictors: Age, <tspan font-style="italic">ω</tspan><tspan font-size="13" dy="3">1</tspan><tspan dy="-3">, </tspan><tspan font-style="italic">φ</tspan><tspan font-size="13" dy="3">1</tspan><tspan dy="-3"> (AUC = 0.91)</tspan></text>
</svg></body></html>
